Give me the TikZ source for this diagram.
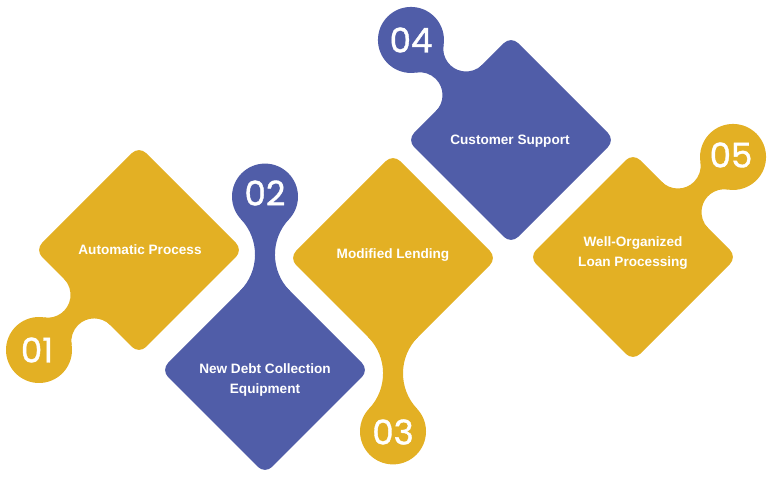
\documentclass[tikz,border=0pt]{standalone}
\usepackage{fontspec}
\setmainfont{Liberation Sans}
\newfontfamily\numfont{Poppins}[FakeBold=1.2]
\definecolor{gold}{RGB}{227,176,36}
\definecolor{blu}{RGB}{80,93,168}
\tikzset{
  diam/.style={rounded corners=10pt},
  lbl/.style={text=white, font=\bfseries\fontsize{13.6}{20}\selectfont, align=center, inner sep=0pt},
  num/.style={text=white, font=\numfont\fontsize{34}{34}\selectfont, inner sep=0pt},
  vneck/.pic={\fill[pic actions] (22.6,24.0) arc[start angle=226.7, end angle=315, radius=51.6pt] -- (120,0) -- (94.5,-25.1) arc[start angle=45, end angle=133.3, radius=51.6pt] -- cycle;},
  eneck/.pic={\fill[pic actions] (26.69,19.41) arc[start angle=216, end angle=360, radius=22.84pt] -- (80,0) -- (68,-32.84) arc[start angle=0, end angle=144, radius=22.84pt] -- cycle;}
}
\begin{document}
\begin{tikzpicture}[x=1pt,y=1pt]
\useasboundingbox (0,0) rectangle (768,478);
% necks
\pic[gold, rotate=45] at (39,128) {eneck};
\pic[blu, rotate=-90] at (265,281.4) {vneck};
\pic[gold, rotate=90] at (393,46.6) {vneck};
\pic[blu, rotate=-45] at (410.95,438.05) {eneck};
\pic[gold, rotate=225] at (733.05,321.05) {eneck};
% diamonds
\fill[gold, diam] (35,228) -- (139,332) -- (243,228) -- (139,124) -- cycle;
\fill[blu, diam] (161,108) -- (265,212) -- (369,108) -- (265,4) -- cycle;
\fill[gold, diam] (289,220) -- (393,324) -- (497,220) -- (393,116) -- cycle;
\fill[blu, diam] (407,338) -- (511,442) -- (615,338) -- (511,234) -- cycle;
\fill[gold, diam] (529,221) -- (633,325) -- (737,221) -- (633,117) -- cycle;
% circles
\fill[gold] (39,128) circle[radius=33pt];
\fill[blu] (265,281.4) circle[radius=33pt];
\fill[gold] (393,46.6) circle[radius=33pt];
\fill[blu] (410.95,438.05) circle[radius=33pt];
\fill[gold] (733.05,321.05) circle[radius=33pt];
% labels
\node[lbl] (t1) at (140,228) {Automatic Process};
\node[lbl] (t2) at (265,98) {New Debt Collection\\Equipment};
\node[lbl] (t3) at (393,223) {Modified Lending};
\node[lbl] (t4) at (510,337) {Customer Support};
\node[lbl] (t5) at (633,225) {Well-Organized\\Loan Processing};
% numbers
\node[num] (n1) at (37,128) {01};
\node[num] (n2) at (265,285) {02};
\node[num] (n3) at (393,46) {03};
\node[num] (n4) at (411,438) {04};
\node[num] (n5) at (731,323) {05};
\end{tikzpicture}
\end{document}
